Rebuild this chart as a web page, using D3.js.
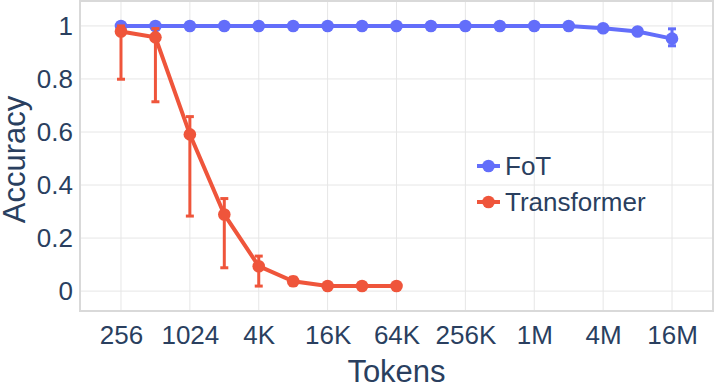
<meta charset="utf-8">
<html>
<head>
<style>
  body { margin: 0; background: #fff; }
  text { font-family: "Liberation Sans", Arial, sans-serif; fill: #2a3f5f; }
</style>
</head>
<body>
<script src="https://d3js.org/d3.v7.min.js"></script>
<div id="chart"></div>
<script>
// token counts as powers of two (2^8 .. 2^24)
var fotExp = [8, 9, 10, 11, 12, 13, 14, 15, 16, 17, 18, 19, 20, 21, 22, 23, 24];
var fotAcc = [1, 1, 1, 1, 1, 1, 1, 1, 1, 1, 1, 1, 1, 1, 0.991, 0.979, 0.952];
var fotLo  = [1, 1, 1, 1, 1, 1, 1, 1, 1, 1, 1, 1, 1, 1, 0.991, 0.979, 0.925];
var fotHi  = [1, 1, 1, 1, 1, 1, 1, 1, 1, 1, 1, 1, 1, 1, 0.991, 0.979, 0.989];

var trExp = [8, 9, 10, 11, 12, 13, 14, 15, 16];
var trAcc = [0.979, 0.957, 0.591, 0.289, 0.094, 0.037, 0.019, 0.019, 0.019];
var trLo  = [0.799, 0.714, 0.283, 0.088, 0.019, 0.022, 0.019, 0.019, 0.019];
var trHi  = [1.0,   0.99,  0.658, 0.349, 0.132, 0.052, 0.019, 0.019, 0.019];

var xTickExp = [8, 10, 12, 14, 16, 18, 20, 22, 24];
var xTickLabels = ["256", "1024", "4K", "16K", "64K", "256K", "1M", "4M", "16M"];
var yTicks = [0, 0.2, 0.4, 0.6, 0.8, 1];

var W = 716, H = 385;
var margin = {top: 1, right: 3, bottom: 74, left: 80};
var width = W - margin.left - margin.right,
    height = H - margin.top - margin.bottom;

var svg = d3.select("#chart").append("svg")
    .attr("width", W).attr("height", H);
var g = svg.append("g")
    .attr("transform", "translate(" + margin.left + "," + margin.top + ")");

var x = d3.scaleLinear().domain([6.81, 25.19]).range([0, width]);
var y = d3.scaleLinear().domain([-0.075, 1.094]).range([height, 0]);

// grid
g.selectAll(".vgrid").data(xTickExp).enter().append("line")
  .attr("x1", d => x(d)).attr("x2", d => x(d))
  .attr("y1", 0).attr("y2", height)
  .attr("stroke", "#e6e6e6").attr("stroke-width", 1);
g.selectAll(".hgrid").data(yTicks).enter().append("line")
  .attr("x1", 0).attr("x2", width)
  .attr("y1", d => y(d)).attr("y2", d => y(d))
  .attr("stroke", "#e6e6e6").attr("stroke-width", 1);

// frame
g.append("rect").attr("x", 0).attr("y", 0)
  .attr("width", width).attr("height", height)
  .attr("fill", "none").attr("stroke", "#d9d9d9").attr("stroke-width", 2);

// axes
var xAxis = g.append("g")
  .attr("transform", "translate(0," + height + ")")
  .call(d3.axisBottom(x).tickValues(xTickExp)
    .tickFormat((d, i) => xTickLabels[i]).tickSize(0).tickPadding(15));
xAxis.select(".domain").remove();
xAxis.selectAll("text").style("font-size", "26px").attr("fill", "#2a3f5f")
  .style("font-family", "Liberation Sans, Arial, sans-serif");

var yAxis = g.append("g")
  .call(d3.axisLeft(y).tickValues(yTicks).tickFormat(d3.format("~g"))
    .tickSize(0).tickPadding(7));
yAxis.select(".domain").remove();
yAxis.selectAll("text").style("font-size", "26px").attr("fill", "#2a3f5f")
  .style("font-family", "Liberation Sans, Arial, sans-serif");

// titles
svg.append("text")
  .attr("x", margin.left + x(16)).attr("y", 382)
  .attr("text-anchor", "middle").style("font-size", "31px")
  .text("Tokens");
svg.append("text")
  .attr("transform", "translate(25," + (margin.top + y(0.5) + 1) + ") rotate(-90)")
  .attr("text-anchor", "middle").style("font-size", "31px")
  .text("Accuracy");

function drawSeries(exps, acc, lo, hi, color) {
  var pts = exps.map((e, i) => ({e: e, v: acc[i], lo: lo[i], hi: hi[i]}));
  var eb = g.append("g").attr("stroke", color).attr("stroke-width", 3);
  pts.filter(d => d.hi - d.lo > 0.001).forEach(function(d) {
    eb.append("line").attr("x1", x(d.e)).attr("x2", x(d.e))
      .attr("y1", y(d.lo)).attr("y2", y(d.hi));
    eb.append("line").attr("x1", x(d.e) - 4).attr("x2", x(d.e) + 4)
      .attr("y1", y(d.lo)).attr("y2", y(d.lo));
    eb.append("line").attr("x1", x(d.e) - 4).attr("x2", x(d.e) + 4)
      .attr("y1", y(d.hi)).attr("y2", y(d.hi));
  });
  g.append("path").datum(pts)
    .attr("fill", "none").attr("stroke", color).attr("stroke-width", 4)
    .attr("d", d3.line().x(d => x(d.e)).y(d => y(d.v)));
  g.selectAll(null).data(pts).enter().append("circle")
    .attr("cx", d => x(d.e)).attr("cy", d => y(d.v)).attr("r", 6.3)
    .attr("fill", color);
}

drawSeries(fotExp, fotAcc, fotLo, fotHi, "#636efa");
drawSeries(trExp, trAcc, trLo, trHi, "#ef553b");

// legend
var legend = svg.append("g");
[["FoT", "#636efa", 166], ["Transformer", "#ef553b", 202]].forEach(function(l) {
  legend.append("line").attr("x1", 477).attr("x2", 500)
    .attr("y1", l[2]).attr("y2", l[2])
    .attr("stroke", l[1]).attr("stroke-width", 4);
  legend.append("circle").attr("cx", 488.5).attr("cy", l[2]).attr("r", 6.3)
    .attr("fill", l[1]);
  legend.append("text").attr("x", 505).attr("y", l[2])
    .attr("dy", "0.35em").style("font-size", "26px").text(l[0]);
});
</script>
</body>
</html>
